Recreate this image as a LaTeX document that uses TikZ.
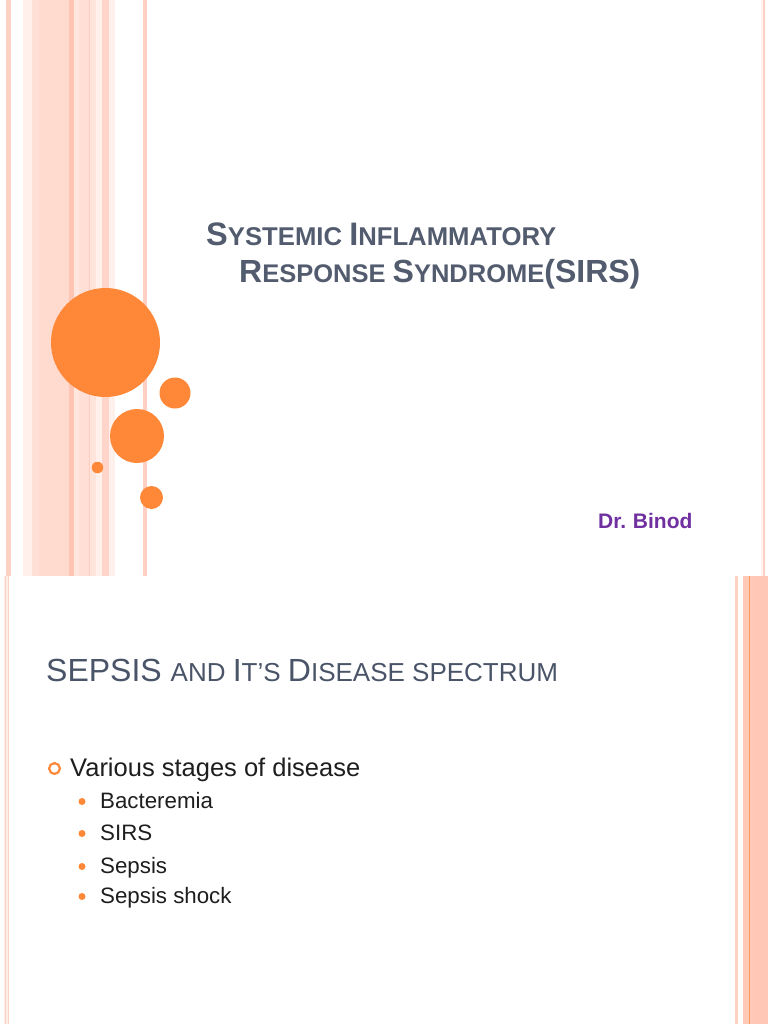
\documentclass[tikz,border=0pt]{standalone}
\usepackage{fontspec}
\setmainfont{Liberation Sans}
\definecolor{orng}{HTML}{FF8838}
\definecolor{ttl}{HTML}{4A5468}
\definecolor{ttlb}{HTML}{525C6E}
\definecolor{purp}{HTML}{7030A0}
\definecolor{body}{HTML}{1E1E1E}
\tikzset{
  ttlnode/.style={anchor=base west,inner sep=0pt,text=ttl},
  bodynode/.style={anchor=base west,inner sep=0pt,text=body},
  dotnode/.style={circle,fill=orng,inner sep=0pt,minimum size=#1}
}
\newcommand{\fs}[1]{\fontsize{#1}{#1}\selectfont}
\begin{document}
\begin{tikzpicture}[x=1pt,y=-1pt]
\useasboundingbox (0,0) rectangle (768,1024);
\fill[white] (0,0) rectangle (768,1024);
% top slide stripes
\foreach \a/\b/\c in {6/11/FFD0C4,23/32/FFF0EB,32/39/FFE0D7,39/69/FFDACF,69/74/FFC4B2,74/79/FFE6DF,79/89/FFDFD6,89/90/FFCDBF,90/96/FFE4DC,96/102/FFF0EB,102/109/FFD5C9,109/115/FFF0EB,143/147/FFCFC3,761/763/FFF4F0,763/765/FFD0C4}{
  \definecolor{tmp}{HTML}{\c}
  \fill[tmp] (\a,0) rectangle (\b,576);
}
% bottom slide stripes
\foreach \a/\b/\c in {4/9/FFEDE7,5/6/FFD0C4,8/9/FFD0C4,734.5/738/FFD0C4,743/748.5/FFC9B8,748.5/750/FF9A60,750/755/FFC9B8,755/768/FFC8B6}{
  \definecolor{tmp}{HTML}{\c}
  \fill[tmp] (\a,576) rectangle (\b,1024);
}
% circles
\node[dotnode=109pt] (c1) at (105.5,342.5) {};
\node[dotnode=31pt] (c2) at (175,393) {};
\node[dotnode=54pt] (c3) at (137,436) {};
\node[dotnode=11.5pt] (c4) at (97.5,467.5) {};
\node[dotnode=23pt] (c5) at (151.5,497.5) {};
% title
\node[ttlnode,text=ttlb] (t1) at (206,245.5) {\bfseries\fs{32.5}S\fs{25.7}YSTEMIC \fs{32.5}I\fs{25.7}NFLAMMATORY};
\node[ttlnode,text=ttlb] (t2) at (239,282) {\bfseries\fs{32}R\fs{25.5}ESPONSE \fs{32}S\fs{25.5}YNDROME\fs{32}(SIRS)};
\node[bodynode,text=purp] (a) at (598,528) {\fs{21}\bfseries Dr.\hspace{-1pt} Binod};
% second title
\node[ttlnode] (t3) at (46,681.5) {\fs{32}SEPSIS \fs{26}AND \fs{32}I\fs{26}T’S \fs{32}D\fs{26}ISEASE SPECTRUM};
% bullets
\node[circle,draw=orng,line width=2.2pt,inner sep=0pt,minimum size=10.8pt] (b0) at (54.5,768.5) {};
\node[bodynode] (l0) at (70,776) {\fs{25.5}Various stages of disease};
\foreach \n/\y/\t in {1/808/Bacteremia,2/840/SIRS,3/873/Sepsis,4/903/Sepsis shock}{
  \node[dotnode=7pt] (d\n) at (82,\y-6.5) {};
  \node[bodynode] (l\n) at (100,\y) {\fs{22.3}\t};
}
\end{tikzpicture}
\end{document}
